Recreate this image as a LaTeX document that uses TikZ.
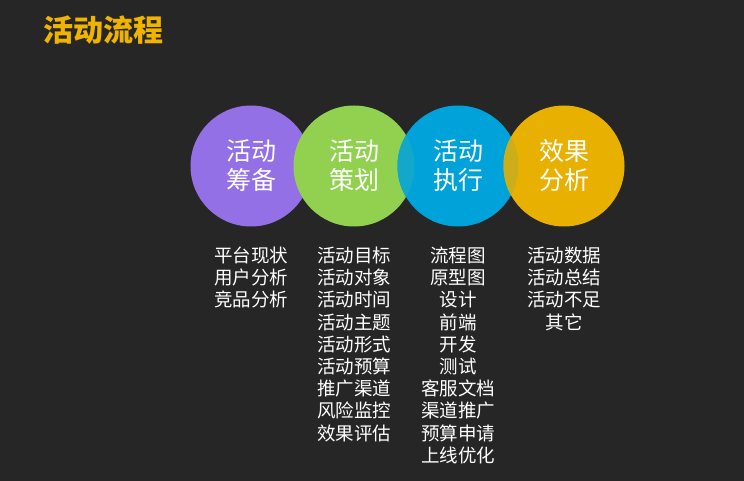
\documentclass[tikz,border=0pt]{standalone}
\usepackage{fontspec}
\newfontfamily\cjk{Noto Sans CJK SC}
\usetikzlibrary{positioning}
\definecolor{bgdark}{RGB}{38,38,38}
\definecolor{titlegold}{RGB}{240,180,0}
\definecolor{stagepurple}{RGB}{147,112,230}
\definecolor{stagegreen}{RGB}{146,208,80}
\definecolor{stageblue}{RGB}{0,162,218}
\definecolor{stageorange}{RGB}{232,176,0}
\tikzset{stage/.style={circle,minimum size=121pt,inner sep=0pt,text=white,align=center,font=\cjk\fontsize{25}{29}\selectfont},
items/.style={inner sep=0pt,text=white,align=center,font=\cjk\fontsize{18.5}{22.2}\selectfont}}

\begin{document}
\begin{tikzpicture}[x=1pt,y=-1pt]
\fill[bgdark] (0,0) rectangle (744,481);
\useasboundingbox (0,0) rectangle (744,481);
\node[anchor=west,text=titlegold,font=\cjk\bfseries\fontsize{30}{33}\selectfont] (title) at (40,30) {活动流程};
% four stages
\node[stage,fill=stagepurple] (prep) at (251,166) {活动\\筹备};
\node[stage,fill=stagegreen] (plan) at (354,166) {活动\\策划};
\node[stage,fill=stageblue] (exec) at (458,166) {活动\\执行};
\begin{scope}
\clip (plan.center) circle (60.5);
\fill[stageblue!88!stagegreen] (exec.center) circle (60.5);
\end{scope}
\node[stage,fill=stageorange] (eval) at (564,166) {效果\\分析};
\begin{scope}
\clip (exec.center) circle (60.5);
\fill[stageorange!88!stageblue] (eval.center) circle (60.5);
\end{scope}
% lists
\node[items,below=20pt of prep] (prepitems) {平台现状\\用户分析\\竞品分析};
\node[items,below=20pt of plan] (planitems) {活动目标\\活动对象\\活动时间\\活动主题\\活动形式\\活动预算\\推广渠道\\风险监控\\效果评估};
\node[items,below=20pt of exec] (execitems) {流程图\\原型图\\设计\\前端\\开发\\测试\\客服文档\\渠道推广\\预算申请\\上线优化};
\node[items,below=20pt of eval] (evalitems) {活动数据\\活动总结\\活动不足\\其它};
\end{tikzpicture}
\end{document}
